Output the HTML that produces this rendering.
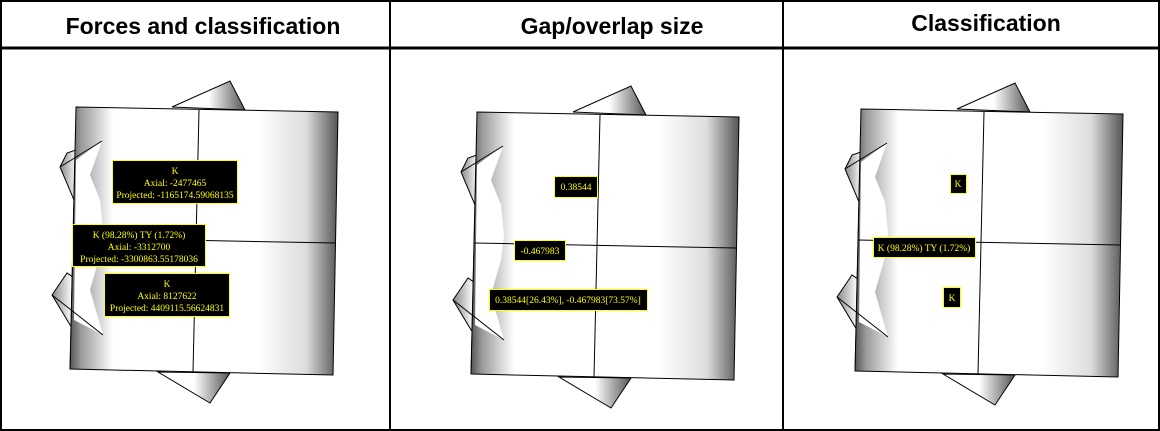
<!DOCTYPE html>
<html><head><meta charset="utf-8"><style>
html,body{margin:0;padding:0;background:#fff}
svg{display:block}
.t{font-family:"Liberation Sans",sans-serif;font-weight:bold;font-size:23px;fill:#000}
.l{font-family:"Liberation Serif",serif;font-size:9.5px;fill:#ffff00}
</style></head><body>
<svg width="1160" height="431" viewBox="0 0 1160 431" xmlns="http://www.w3.org/2000/svg">
<defs>
<linearGradient id="g" x1="0" x2="1" y1="0" y2="0">
<stop offset="0" stop-color="#555"/><stop offset="0.04" stop-color="#999"/><stop offset="0.16" stop-color="#fff"/><stop offset="0.7" stop-color="#fff"/><stop offset="0.88" stop-color="#ddd"/><stop offset="1" stop-color="#555"/>
</linearGradient>
<linearGradient id="g2" x1="0" x2="1" y1="0" y2="0">
<stop offset="0" stop-color="#fff"/><stop offset="0.5" stop-color="#fff"/><stop offset="1" stop-color="#555"/>
</linearGradient>
<linearGradient id="g3" x1="0" x2="1" y1="0" y2="0">
<stop offset="0" stop-color="#888"/><stop offset="0.4" stop-color="#fff"/><stop offset="1" stop-color="#fff"/>
</linearGradient>
<g id="shape" stroke="#000" stroke-width="1">
<polygon points="172,107 230,81 245,110" fill="url(#g2)"/>
<polygon points="158,372 210,403 230,373" fill="url(#g2)"/>
<polygon points="60,167 67,153 102,141 92,170 80,185 74,200" fill="url(#g3)"/>
<polygon points="52,295 67,273 80,282 103,335 75,333" fill="url(#g3)"/>
<polygon points="76,107 338,112 333,375 70,369" fill="url(#g)"/>
<polygon points="76,160 102,141 90,175 100,200 103,230 100,255 90,290 103,335 74,320" fill="#fff" stroke="none"/>
<line x1="102" y1="141" x2="60" y2="167"/>
<line x1="52" y1="295" x2="103" y2="335"/>
<line x1="199" y1="110" x2="193" y2="372"/>
<line x1="73" y1="238" x2="335" y2="243"/>
<line x1="75" y1="155" x2="70" y2="369" stroke-width="0.8"/>
</g>
</defs>
<rect x="1" y="1" width="1158" height="429" fill="#fff" stroke="#000" stroke-width="2"/>
<line x1="0" y1="48" x2="1160" y2="48" stroke="#000" stroke-width="3"/>
<line x1="390" y1="0" x2="390" y2="431" stroke="#000" stroke-width="2"/>
<line x1="783" y1="0" x2="783" y2="431" stroke="#000" stroke-width="2"/>
<text class="t" x="203" y="34" text-anchor="middle">Forces and classification</text>
<text class="t" x="612" y="34" text-anchor="middle">Gap/overlap size</text>
<text class="t" x="986" y="31" text-anchor="middle">Classification</text>

<use href="#shape"/>
<use href="#shape" transform="translate(401,5)"/>
<use href="#shape" transform="translate(785,2)"/>

<g stroke="#ffff00" stroke-width="1" fill="#000">
<rect x="112.5" y="160.5" width="125" height="43"/>
<rect x="72.5" y="224.5" width="133" height="42"/>
<rect x="104.5" y="273.5" width="125" height="43"/>
<rect x="554.5" y="176.5" width="43" height="21"/>
<rect x="514.5" y="240.5" width="51" height="20"/>
<rect x="489.5" y="289.5" width="158" height="21"/>
<rect x="950.5" y="174.5" width="16" height="19"/>
<rect x="873.5" y="237.5" width="102" height="20"/>
<rect x="943.5" y="287.5" width="17" height="20"/>
</g>
<g class="l" text-anchor="middle">
<text x="175" y="174">K</text><text x="175" y="186">Axial: -2477465</text><text x="175" y="198">Projected: -1165174.59068135</text>
<text x="139" y="238">K (98.28%) TY (1.72%)</text><text x="139" y="250">Axial: -3312700</text><text x="139" y="262">Projected: -3300863.55178036</text>
<text x="167" y="287">K</text><text x="167" y="299">Axial: 8127622</text><text x="167" y="311">Projected: 4409115.56624831</text>
<text x="576" y="190">0.38544</text>
<text x="540" y="254">-0.467983</text>
<text x="568" y="303">0.38544[26.43%], -0.467983[73.57%]</text>
<text x="958" y="187">K</text>
<text x="924" y="251">K (98.28%) TY (1.72%)</text>
<text x="952" y="301">K</text>
</g>
</svg>
</body></html>
